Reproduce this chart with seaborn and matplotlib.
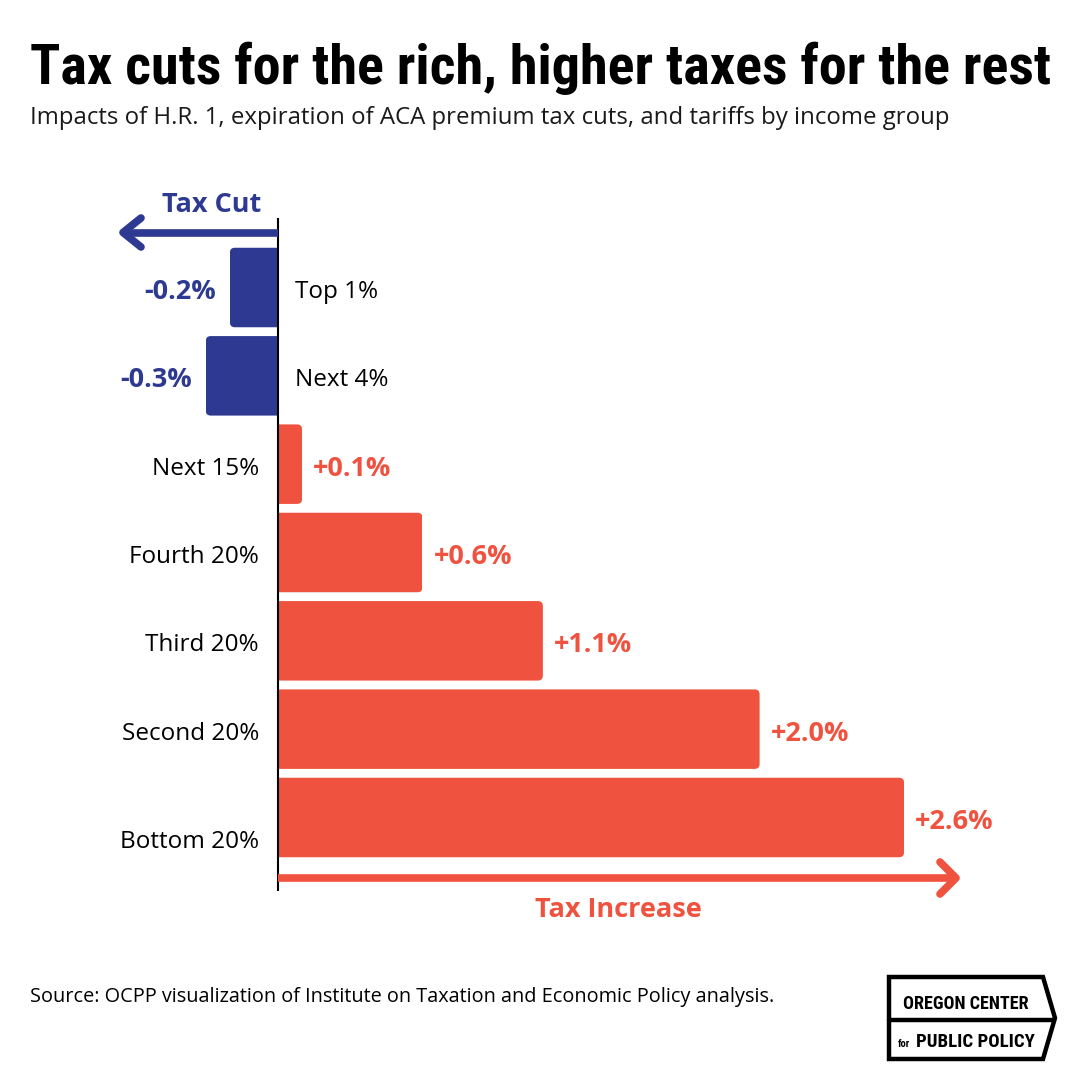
import matplotlib
matplotlib.use("Agg")
import matplotlib.pyplot as plt
import seaborn as sns
import pandas as pd
import numpy as np
from matplotlib import font_manager
from matplotlib.patches import FancyBboxPatch, Polygon, Rectangle
from matplotlib.lines import Line2D

# ---------------- data ----------------
groups = ["Top 1%", "Next 4%", "Next 15%", "Fourth 20%", "Third 20%", "Second 20%", "Bottom 20%"]
change = [-0.2, -0.3, 0.1, 0.6, 1.1, 2.0, 2.6]
value_labels = ["-0.2%", "-0.3%", "+0.1%", "+0.6%", "+1.1%", "+2.0%", "+2.6%"]

title = "Tax cuts for the rich, higher taxes for the rest"
subtitle = "Impacts of H.R. 1, expiration of ACA premium tax cuts, and tariffs by income group"
source = "Source: OCPP visualization of Institute on Taxation and Economic Policy analysis."
cut_label = "Tax Cut"
inc_label = "Tax Increase"
logo_top = "OREGON CENTER"
logo_for = "for"
logo_bottom = "PUBLIC POLICY"

BLUE = "#2E3A91"
RED = "#F05240"

# ---------------- style ----------------
sns.set_theme(style="white")
plt.rcParams["font.family"] = ["Open Sans", "DejaVu Sans"]
names = {f.name for f in font_manager.fontManager.ttflist}
COND = next((n for n in ["Liberation Sans Narrow", "DejaVu Sans Condensed", "Roboto Condensed"] if n in names), "DejaVu Sans")

W = H = 1080
fig = plt.figure(figsize=(10.8, 10.8), dpi=100)
ax = fig.add_axes([0, 0, 1, 1])

df = pd.DataFrame({"group": groups, "change": change})
df["side"] = np.where(df["change"] < 0, "cut", "increase")
sns.barplot(data=df, y="group", x="change", hue="side", orient="h",
            palette={"cut": BLUE, "increase": RED}, width=0.9, dodge=False,
            legend=False, saturation=1, ax=ax)

# pixel mapping
X0, PXX = 278.0, 240.8          # zero line px, px per 1 %
Y0, PITCH = 287.5, 88.33         # first bar centre px, px per category
ax.set_xlim(-X0 / PXX, (W - X0) / PXX)
ax.set_ylim((H - Y0) / PITCH, -Y0 / PITCH)
ax.set_axis_off()

def dx(px):
    return (px - X0) / PXX

def dy(py):
    return (py - Y0) / PITCH

# rounded outer corners on the bars (zero end kept square by clipping)
asp = PXX / PITCH
r = 5 / PXX
for p in list(ax.patches):
    x, y, w, h = p.get_x(), p.get_y(), p.get_width(), p.get_height()
    fc = p.get_facecolor()
    x0, x1 = min(x, x + w), max(x, x + w)
    if abs(x1 - x0) < 1e-9:
        continue
    ext = 3 * r
    if x0 >= 0:
        bx0, bx1 = x0 - ext, x1
    else:
        bx0, bx1 = x0, x1 + ext
    fb = FancyBboxPatch((bx0, y), bx1 - bx0, h,
                        boxstyle=f"round,pad=0,rounding_size={r}",
                        mutation_aspect=asp, fc=fc, ec="none", zorder=2)
    ax.add_patch(fb)
    clip = Rectangle((x0, y - 0.1), x1 - x0, h + 0.2, transform=ax.transData)
    fb.set_clip_path(clip)
    p.remove()

# labels
for i, (g, v, lab) in enumerate(zip(groups, change, value_labels)):
    yc = i + 1.5 / PITCH
    if v < 0:
        ax.text(v - 14 / PXX, yc, lab, ha="right", va="center_baseline", color=BLUE,
                fontsize=19.5, fontweight="bold")
        ax.text(dx(295), yc, g, ha="left", va="center_baseline", color="black", fontsize=17.5)
    else:
        ax.text(v + 11 / PXX, yc, lab, ha="left", va="center_baseline", color=RED,
                fontsize=19.5, fontweight="bold")
        off = 20 / PITCH if i == len(groups) - 1 else 0
        ax.text(dx(259), yc + off, g, ha="right", va="center_baseline", color="black", fontsize=17.5)

# zero axis line
ax.plot([0, 0], [dy(218), dy(891)], color="black", lw=1.5, zorder=3, solid_capstyle="butt")

# arrows
LW = 5.5
ax.plot([0, dx(124)], [dy(232.5)] * 2, color=BLUE, lw=LW, solid_capstyle="butt", zorder=3)
ax.plot([dx(141), dx(123), dx(141)], [dy(218), dy(232.5), dy(247)], color=BLUE, lw=LW,
        solid_capstyle="round", solid_joinstyle="round", zorder=3)
ax.plot([0, dx(955)], [dy(878)] * 2, color=RED, lw=LW, solid_capstyle="butt", zorder=3)
ax.plot([dx(940), dx(956), dx(940)], [dy(862), dy(878), dy(894)], color=RED, lw=LW,
        solid_capstyle="round", solid_joinstyle="round", zorder=3)

def ftext(x, y, s, **kw):
    return fig.text(x / W, 1 - y / H, s, **kw)

ftext(212, 212, cut_label, ha="center", va="baseline", color=BLUE, fontsize=19.5, fontweight="bold")
ftext(618, 917, inc_label, ha="center", va="baseline", color=RED, fontsize=19.5, fontweight="bold")

# title / subtitle / source
renderer = fig.canvas.get_renderer()

def fit(t, target_w):
    bb = t.get_window_extent(renderer)
    t.set_fontsize(t.get_fontsize() * target_w / bb.width)

t_title = ftext(30, 84, title, ha="left", va="baseline", fontsize=60,
                fontfamily=[COND, "DejaVu Sans"], fontweight="bold", color="black")
fit(t_title, 1022)
t_sub = ftext(30, 124, subtitle, ha="left", va="baseline", fontsize=17, color="#1a1a1a")
fit(t_sub, 918)
t_src = ftext(30, 1002, source, ha="left", va="baseline", fontsize=14, color="black")
fit(t_src, 748)

# logo
lw_logo = 3.2
poly = Polygon([(889 / W, 1 - 977 / H), (1043 / W, 1 - 977 / H), (1055 / W, 1 - 1018 / H),
                (1043 / W, 1 - 1059 / H), (889 / W, 1 - 1059 / H)], closed=True,
               transform=fig.transFigure, fc="white", ec="black", lw=lw_logo, joinstyle="miter")
fig.add_artist(poly)
fig.add_artist(Line2D([889 / W, 1054 / W], [1 - 1020 / H] * 2, transform=fig.transFigure,
                      color="black", lw=lw_logo))
t1 = ftext(966, 1009, logo_top, ha="center", va="baseline", fontsize=14,
           fontfamily=[COND, "DejaVu Sans"], fontweight="bold", color="black")
fit(t1, 126)
t2 = ftext(898, 1047, logo_for, ha="left", va="baseline", fontsize=8,
           fontfamily=[COND, "DejaVu Sans"], fontweight="bold", color="black")
fit(t2, 12)
t3 = ftext(916, 1047, logo_bottom, ha="left", va="baseline", fontsize=14,
           fontfamily=[COND, "DejaVu Sans"], fontweight="bold", color="black")
fit(t3, 118)

fig.savefig("out.png", dpi=100, facecolor="white")
